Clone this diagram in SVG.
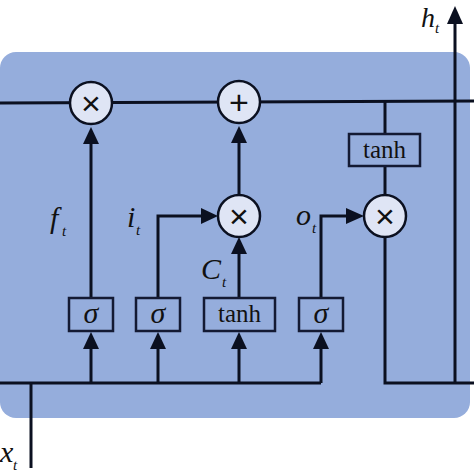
<svg xmlns="http://www.w3.org/2000/svg" width="474" height="474" viewBox="0 0 474 474">
<style>
.ln{stroke:#0b1020;stroke-width:3;fill:none}
.box{fill:none;stroke:#141a33;stroke-width:2.5}
.op{fill:#dfe5f5;stroke:#0b1020;stroke-width:2.5}
.opt{font-family:"Liberation Sans",Arial,sans-serif;font-size:34px;fill:#111;text-anchor:middle}
.lbl{font-family:"Liberation Serif","Times New Roman",serif;font-style:italic;font-size:30px;fill:#111}
.sub{font-size:15px}
.bt{font-family:"Liberation Serif","Times New Roman",serif;font-size:25px;fill:#111;text-anchor:middle}
.sg{font-family:"Liberation Serif","Times New Roman",serif;font-style:italic;font-size:30px;fill:#111;text-anchor:middle}
.ah{fill:#0b1020}
</style>
<rect x="0" y="52" width="470" height="366" rx="16" fill="#95addc"/>
<g id="connectors">
<line class="ln" x1="0" y1="103" x2="474" y2="101"/>
<line class="ln" x1="0" y1="383" x2="321" y2="383"/>
<line class="ln" x1="31" y1="383" x2="31" y2="468"/>
<polyline class="ln" points="385,237 385,383 474,383"/>
<line class="ln" x1="455" y1="383" x2="455" y2="18"/>
<polygon class="ah" points="455,6 447,24 463,24"/>
<line class="ln" x1="385" y1="102" x2="385" y2="133"/>
<line class="ln" x1="385" y1="166" x2="385" y2="196"/>
<line class="ln" x1="91" y1="298" x2="91" y2="140"/>
<polygon class="ah" points="91,127 83,144 99,144"/>
<line class="ln" x1="239" y1="195" x2="239" y2="140"/>
<polygon class="ah" points="239,126 231,143 247,143"/>
<polyline class="ln" points="158,298 158,216 205,216"/>
<polygon class="ah" points="218,216 201,208 201,224"/>
<line class="ln" x1="239" y1="298" x2="239" y2="250"/>
<polygon class="ah" points="239,237 231,254 247,254"/>
<polyline class="ln" points="321,298 321,216 350,216"/>
<polygon class="ah" points="364,216 346,208 346,224"/>
<line class="ln" x1="91" y1="383" x2="91" y2="345"/>
<polygon class="ah" points="91,332 83,349 99,349"/>
<line class="ln" x1="158" y1="383" x2="158" y2="345"/>
<polygon class="ah" points="158,332 150,349 166,349"/>
<line class="ln" x1="239" y1="383" x2="239" y2="345"/>
<polygon class="ah" points="239,332 231,349 247,349"/>
<line class="ln" x1="321" y1="383" x2="321" y2="345"/>
<polygon class="ah" points="321,332 313,349 329,349"/>
</g>
<g id="mul-forget"><circle class="op" cx="91" cy="103" r="21"/><text class="opt" x="91" y="115">×</text></g>
<g id="add-cell"><circle class="op" cx="239" cy="102" r="21"/><text class="opt" x="239" y="114">+</text></g>
<g id="mul-input"><circle class="op" cx="239" cy="216" r="21"/><text class="opt" x="239" y="228">×</text></g>
<g id="mul-output"><circle class="op" cx="385" cy="216" r="21"/><text class="opt" x="385" y="228">×</text></g>
<g id="tanh-out"><rect class="box" x="349" y="134" width="71" height="32"/><text class="bt" x="384.5" y="158">tanh</text></g>
<g id="sigma-f"><rect class="box" x="69" y="298" width="44" height="33"/><text class="sg" x="91" y="323">σ</text></g>
<g id="sigma-i"><rect class="box" x="136" y="298" width="44" height="33"/><text class="sg" x="158" y="323">σ</text></g>
<g id="tanh-c"><rect class="box" x="204" y="298" width="71" height="33"/><text class="bt" x="239.5" y="322">tanh</text></g>
<g id="sigma-o"><rect class="box" x="299" y="298" width="44" height="33"/><text class="sg" x="321" y="323">σ</text></g>
<g id="labels">
<text class="lbl" x="50" y="228">f<tspan class="sub" x="62" y="236">t</tspan></text>
<text class="lbl" x="127" y="227">i<tspan class="sub" x="136" y="235">t</tspan></text>
<text class="lbl" x="201" y="279">C<tspan class="sub" x="222" y="287">t</tspan></text>
<text class="lbl" x="296" y="225">o<tspan class="sub" x="312" y="233">t</tspan></text>
<text class="lbl" x="421" y="27" style="font-size:28px">h<tspan class="sub" x="435" y="33">t</tspan></text>
<text class="lbl" x="0" y="462">x<tspan class="sub" x="13" y="470">t</tspan></text>
</g>
</svg>
